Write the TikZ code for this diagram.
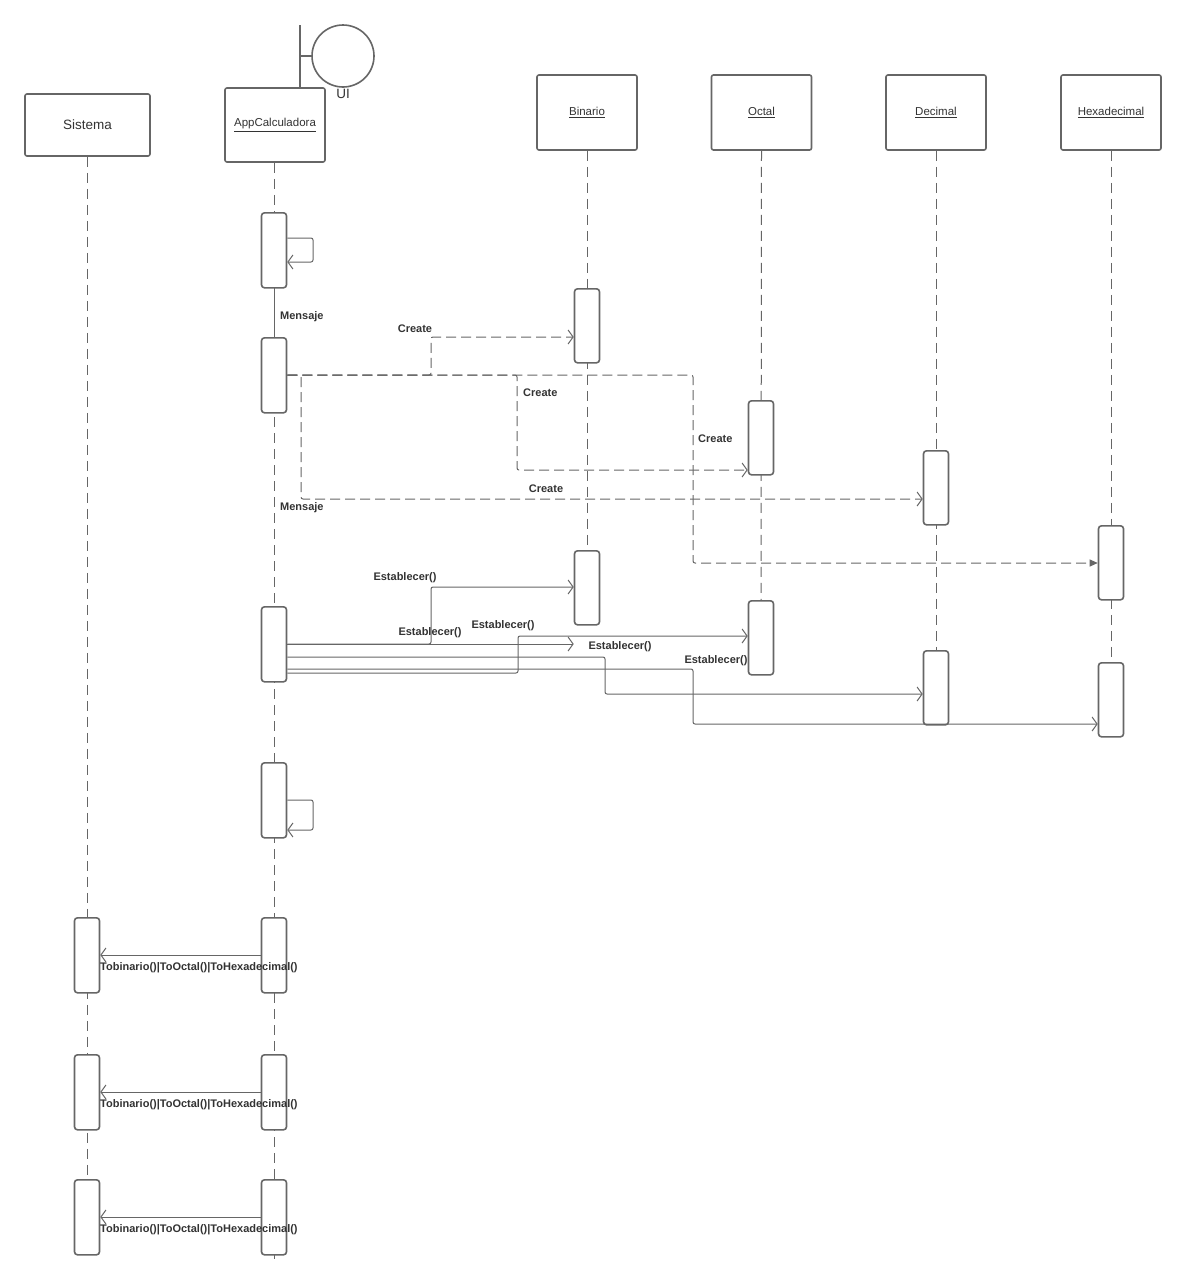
\documentclass[tikz,border=0pt]{standalone}
\usepackage{fontspec}
\setmainfont{Liberation Sans}
\usetikzlibrary{arrows.meta}
\definecolor{ln}{HTML}{666666}
\definecolor{tx}{HTML}{333333}
\begin{document}
\begin{tikzpicture}[x=1pt,y=-1pt,
  hdr/.style={draw=ln,line width=1.6pt,rounded corners=2pt,fill=white,inner sep=0pt,text=tx,font=\fontsize{13.5}{15}\selectfont},
  actbox/.style={draw=ln,line width=1.6pt,rounded corners=3pt,fill=white,minimum width=25pt,inner sep=0pt},
  life/.style={draw=ln,line width=1pt,dash pattern=on 10pt off 6pt},
  msg/.style={draw=ln,line width=1pt,rounded corners=2pt,-{Straight Barb[length=5pt,width=14pt]}},
  cmsg/.style={msg,dash pattern=on 10pt off 5pt},
  lbl/.style={text=tx,font=\bfseries\fontsize{11}{13}\selectfont,inner sep=0pt}]
\useasboundingbox (0,0) rectangle (1186,1280);
\fill[white] (0,0) rectangle (1186,1280);
% headers
\node[hdr,minimum width=125pt,minimum height=62pt] (sis) at (87.5,125) {Sistema};
\node[hdr,minimum width=100pt,minimum height=74pt,font=\fontsize{11.5}{13}\selectfont] (app) at (275,125) {\underline{AppCalculadora}};
\node[hdr,minimum width=100pt,minimum height=75pt,font=\fontsize{11.5}{13}\selectfont] (bin) at (587,112.5) {\underline{Binario}};
\node[hdr,minimum width=100pt,minimum height=75pt,font=\fontsize{11.5}{13}\selectfont] (oct) at (761.5,112.5) {\underline{Octal}};
\node[hdr,minimum width=100pt,minimum height=75pt,font=\fontsize{11.5}{13}\selectfont] (dec) at (936,112.5) {\underline{Decimal}};
\node[hdr,minimum width=100pt,minimum height=75pt,font=\fontsize{11.5}{13}\selectfont] (hex) at (1111,112.5) {\underline{Hexadecimal}};
% UI
\coordinate (uiT) at (300,25);
\draw[ln,line width=1.6pt] (uiT) -- (300,88);
\node[circle,draw=ln,line width=1.6pt,minimum size=62pt,inner sep=0pt] (ui) at (343,56) {};
\draw[ln,line width=1.2pt] (300,56) -- (ui.west);
\node[text=tx,font=\fontsize{13.5}{15}\selectfont,inner sep=0pt] (uil) at (343,94) {UI};
% lifelines
\coordinate (sisE) at (87,1260);
\coordinate (appE) at (274,1260);
\draw[life] (sis.south -| 87,0) -- (sisE);
\draw[life] (app.south -| 274,0) -- (274,287);
\draw[ln,line width=1pt] (274,287) -- (274,337);
\draw[life] (274,337) -- (appE);
\draw[life] (bin.south) -- (587,550);
\draw[life] (oct.south) -- (761,600);
\draw[life] (dec.south) -- (936,650);
\draw[life] (hex.south) -- (1111,662);
% activations
\newcommand{\actv}[4]{\node[actbox,minimum height=#4pt-#3pt,anchor=north] (#1) at (#2,#3) {};}
\actv{a1}{274}{212}{287}
\actv{a2}{274}{337}{412}
\actv{a3}{274}{606}{681}
\actv{a4}{274}{762}{837}
\actv{a5}{274}{917}{992}
\actv{a6}{274}{1054}{1129}
\actv{a7}{274}{1179}{1254}
\actv{s5}{87}{917}{992}
\actv{s6}{87}{1054}{1129}
\actv{s7}{87}{1179}{1254}
\actv{b1}{587}{288}{362}
\actv{b2}{587}{550}{624}
\actv{o1}{761}{400}{474}
\actv{o2}{761}{600}{674}
\actv{d1}{936}{450}{524}
\actv{d2}{936}{650}{724}
\actv{h1}{1111}{525}{599}
\actv{h2}{1111}{662}{736}
% self calls
\draw[msg] (a1.east |- 0,238) -- (313,238) -- (313,262) -- (a1.east |- 0,262);
\draw[msg] (a4.east |- 0,800) -- (313,800) -- (313,830) -- (a4.east |- 0,830);
\node[lbl,anchor=west] (m1) at (280,317) {Mensaje};
\node[lbl,anchor=west] (m2) at (280,508) {Mensaje};
% creates
\draw[cmsg] (a2.east |- 0,375) -- (431,375) -- (431,337) -- (b1.west |- 0,337);
\draw[cmsg] (a2.east |- 0,375) -- (517,375) -- (517,470) -- (o1.west |- 0,470);
\draw[cmsg] (a2.east |- 0,375) -- (301,375) -- (301,499) -- (d1.west |- 0,499);
\draw[draw=ln,line width=1pt,rounded corners=2pt,dash pattern=on 10pt off 5pt,-{Triangle[length=8pt,width=7pt]}] (a2.east |- 0,375) -- (693,375) -- (693,563) -- (h1.west |- 0,563);
\node[lbl] (c1) at (415,329) {Create};
\node[lbl,anchor=west] (c2) at (523,393) {Create};
\node[lbl,anchor=west] (c3) at (698,439) {Create};
\node[lbl] (c4) at (546,489) {Create};
% establecer
\draw[msg] (a3.east |- 0,644) -- (431,644) -- (431,587) -- (b2.west |- 0,587);
\draw[msg] (a3.east |- 0,644) -- (b2.west |- 0,644);
\draw[msg] (a3.east |- 0,673) -- (518,673) -- (518,636) -- (o2.west |- 0,636);
\draw[msg] (a3.east |- 0,657) -- (605,657) -- (605,694) -- (d2.west |- 0,694);
\draw[msg] (a3.east |- 0,669) -- (693,669) -- (693,724) -- (h2.west |- 0,724);
\node[lbl] (e1) at (405,578) {Establecer()};
\node[lbl] (e2) at (430,633) {Establecer()};
\node[lbl] (e3) at (503,626) {Establecer()};
\node[lbl] (e4) at (620,647) {Establecer()};
\node[lbl] (e5) at (716,661) {Establecer()};
% calls to Sistema
\draw[msg] (a5.west |- 0,955) -- (s5.east |- 0,955);
\draw[msg] (a6.west |- 0,1092) -- (s6.east |- 0,1092);
\draw[msg] (a7.west |- 0,1217) -- (s7.east |- 0,1217);
\node[lbl,anchor=west] (t1) at (100,968) {Tobinario()|ToOctal()|ToHexadecimal()};
\node[lbl,anchor=west] (t2) at (100,1105) {Tobinario()|ToOctal()|ToHexadecimal()};
\node[lbl,anchor=west] (t3) at (100,1230) {Tobinario()|ToOctal()|ToHexadecimal()};
\end{tikzpicture}
\end{document}
